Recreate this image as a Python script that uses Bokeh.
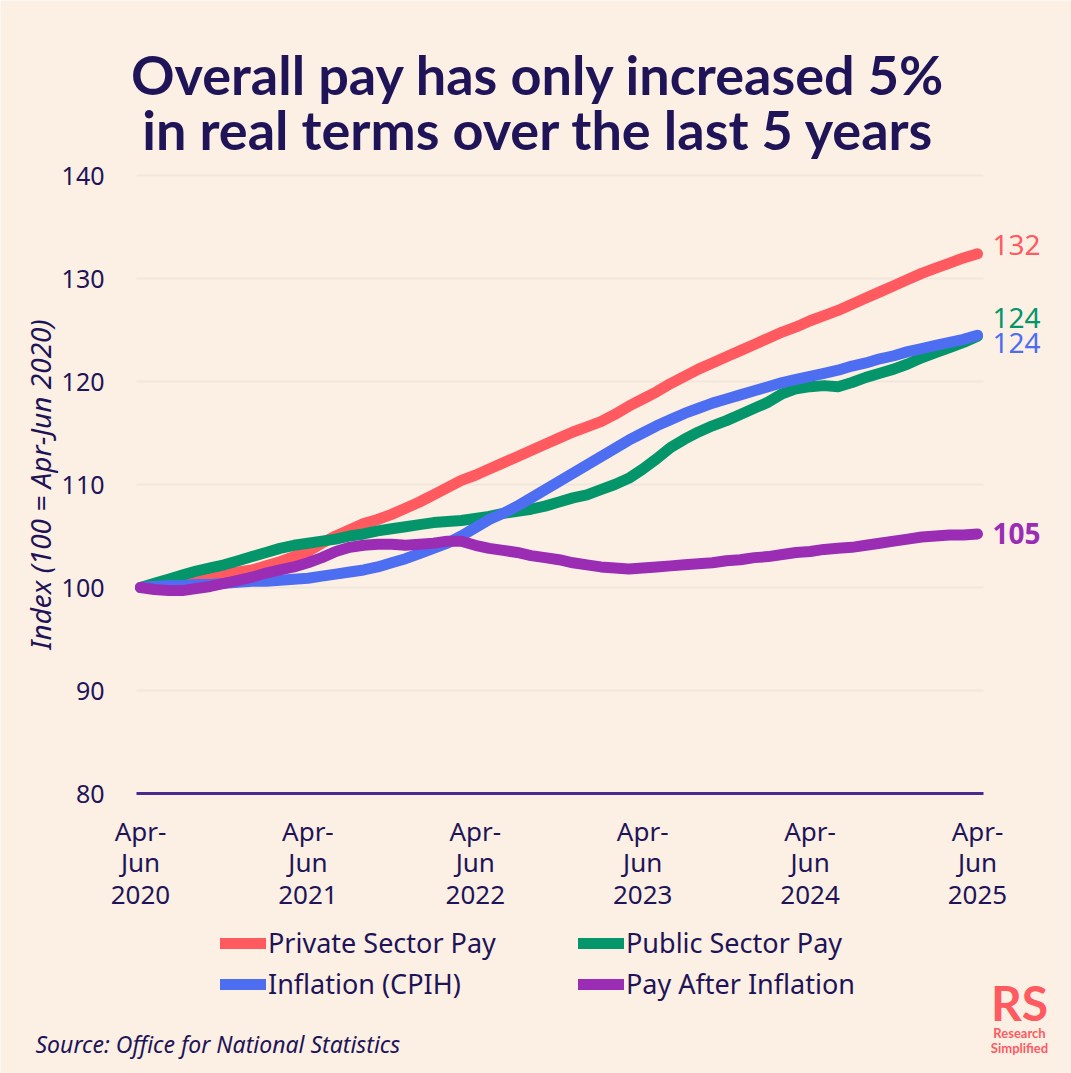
from bokeh.plotting import figure
from bokeh.models import Label, Legend, LegendItem, FixedTicker, Range1d, LinearAxis
from bokeh.embed import file_html
from bokeh.resources import INLINE

# ---- data (index, 100 = Apr-Jun 2020), rolling quarters Apr-Jun 2020 .. Apr-Jun 2025
months = list(range(61))
tick_months = [0, 12, 24, 36, 48, 60]
tick_labels = ["Apr-\nJun\n2020", "Apr-\nJun\n2021", "Apr-\nJun\n2022",
               "Apr-\nJun\n2023", "Apr-\nJun\n2024", "Apr-\nJun\n2025"]
y_ticks = [80, 90, 100, 110, 120, 130, 140]

private = [100.0, 100.2, 100.5, 100.7, 100.9, 101.1, 101.3, 101.5, 101.7, 102.1,
           102.5, 103.0, 103.5, 104.3, 105.0, 105.6, 106.2, 106.6, 107.1, 107.7,
           108.3, 109.0, 109.7, 110.4, 110.9, 111.5, 112.1, 112.7, 113.3, 113.9,
           114.5, 115.1, 115.6, 116.1, 116.8, 117.6, 118.3, 119.0, 119.8, 120.5,
           121.2, 121.8, 122.4, 123.0, 123.6, 124.2, 124.8, 125.3, 125.9, 126.4,
           126.9, 127.5, 128.1, 128.7, 129.3, 129.9, 130.5, 131.0, 131.5, 132.0,
           132.4]
public = [100.0, 100.4, 100.8, 101.2, 101.6, 101.9, 102.2, 102.6, 103.0, 103.4,
          103.8, 104.1, 104.3, 104.5, 104.7, 105.0, 105.2, 105.5, 105.7, 105.9,
          106.1, 106.3, 106.4, 106.5, 106.7, 106.9, 107.2, 107.4, 107.6, 107.9,
          108.3, 108.7, 109.0, 109.5, 110.0, 110.6, 111.5, 112.5, 113.6, 114.4,
          115.1, 115.7, 116.2, 116.8, 117.4, 118.0, 118.8, 119.3, 119.5, 119.6,
          119.5, 119.9, 120.4, 120.8, 121.2, 121.7, 122.3, 122.8, 123.3, 123.8,
          124.4]
inflation = [100.0, 100.1, 100.2, 100.2, 100.3, 100.3, 100.4, 100.5, 100.6, 100.6,
             100.7, 100.8, 100.9, 101.1, 101.3, 101.5, 101.7, 102.0, 102.4, 102.8,
             103.3, 103.8, 104.3, 105.0, 105.8, 106.6, 107.2, 107.9, 108.7, 109.5,
             110.3, 111.1, 111.9, 112.7, 113.5, 114.3, 115.0, 115.7, 116.3, 116.9,
             117.4, 117.9, 118.3, 118.7, 119.1, 119.5, 119.9, 120.2, 120.5, 120.8,
             121.1, 121.5, 121.8, 122.2, 122.5, 122.9, 123.2, 123.5, 123.8, 124.1,
             124.5]
real_pay = [100.0, 99.8, 99.7, 99.7, 99.9, 100.1, 100.4, 100.7, 101.0, 101.4,
            101.7, 102.0, 102.4, 102.9, 103.5, 103.9, 104.1, 104.2, 104.2, 104.1,
            104.2, 104.3, 104.5, 104.5, 104.1, 103.8, 103.6, 103.4, 103.1, 102.9,
            102.7, 102.4, 102.2, 102.0, 101.9, 101.8, 101.9, 102.0, 102.1, 102.2,
            102.3, 102.4, 102.6, 102.7, 102.9, 103.0, 103.2, 103.4, 103.5, 103.7,
            103.8, 103.9, 104.1, 104.3, 104.5, 104.7, 104.9, 105.0, 105.1, 105.1,
            105.2]

series_names = ["Private Sector Pay", "Public Sector Pay", "Inflation (CPIH)", "Pay After Inflation"]
end_labels = ["132", "124", "124", "105"]

BG = "#FCF0E5"
NAVY = "#1F1457"
RED = "#FF5A5F"
GREEN = "#05956A"
BLUE = "#4E6EF2"
PURPLE = "#9A2DB3"
AXIS = "#4A2A8C"
FONT = "Noto Sans"

W, H = 1071, 1073
# plot area geometry (pixels)
PX_LEFT, PX_X0, PX_X60, PX_RIGHT = 136, 140, 977, 983
PX_Y80, PX_Y140 = 793, 175
kx = (PX_X60 - PX_X0) / 60.0
ky = (PX_Y80 - PX_Y140) / 60.0
x_lo = (PX_LEFT - PX_X0) / kx
x_hi = 60 + (PX_RIGHT - PX_X60) / kx

p = figure(width=W, height=H, output_backend="svg", toolbar_location=None,
           x_range=Range1d(-PX_X0 / kx, (W - PX_X0) / kx),
           y_range=Range1d(80 - (H - PX_Y80) / ky, 80 + PX_Y80 / ky),
           x_axis_location=None, y_axis_location=None,
           min_border=0, background_fill_color=BG, border_fill_color=BG,
           outline_line_color=None)
p.title.visible = False
p.xgrid.visible = False
p.ygrid.visible = False

# horizontal gridlines limited to the plot area
p.segment(x0=[x_lo] * len(y_ticks), x1=[x_hi] * len(y_ticks), y0=y_ticks, y1=y_ticks,
          line_color="#F1E6DC", line_width=2)

# axes
yaxis = LinearAxis(fixed_location=x_lo, bounds=(80, 140), ticker=FixedTicker(ticks=y_ticks))
yaxis.axis_line_color = None
yaxis.major_tick_line_color = None
yaxis.minor_tick_line_color = None
yaxis.major_label_standoff = 26
yaxis.major_label_text_font = FONT
yaxis.major_label_text_font_size = "25px"
yaxis.major_label_text_color = NAVY
yaxis.axis_label = "Index (100 = Apr-Jun 2020)"
yaxis.axis_label_text_font = FONT
yaxis.axis_label_text_font_style = "italic"
yaxis.axis_label_text_font_size = "28px"
yaxis.axis_label_text_color = NAVY
yaxis.axis_label_standoff = 0
p.add_layout(yaxis, "left")

xaxis = LinearAxis(fixed_location=80, bounds=(x_lo, x_hi), ticker=FixedTicker(ticks=tick_months))
xaxis.major_label_overrides = {m: lab for m, lab in zip(tick_months, tick_labels)}
xaxis.axis_line_color = AXIS
xaxis.axis_line_width = 3
xaxis.major_tick_line_color = None
xaxis.minor_tick_line_color = None
xaxis.major_label_standoff = 13
xaxis.major_label_text_font = FONT
xaxis.major_label_text_font_size = "26px"
xaxis.major_label_text_line_height = 0.88
xaxis.major_label_text_color = NAVY
p.add_layout(xaxis, "below")

# lines (drawing order: red, green, blue, purple on top)
colors = [RED, GREEN, BLUE, PURPLE]
datas = [private, public, inflation, real_pay]
renderers = []
for vals, col in zip(datas, colors):
    r = p.line(months, vals, line_width=11, line_color=col, line_cap="round", line_join="round")
    renderers.append(r)

# legend fills column by column: [Private, Inflation] | [Public, Pay After]
legend_order = [0, 2, 1, 3]
legend = Legend(items=[LegendItem(label=series_names[i], renderers=[renderers[i]]) for i in legend_order],
                location=(220, 71), ncols=2, glyph_width=46, glyph_height=20,
                label_height=20, label_width=306, label_standoff=2, spacing=4,
                padding=0, margin=0, border_line_color=None, background_fill_alpha=0,
                label_text_font=FONT, label_text_font_size="27px", label_text_color=NAVY)
p.add_layout(legend)

# end labels
offsets = [9, 18, -8, 0]
for vals, col, txt, off in zip(datas, colors, end_labels, offsets):
    p.add_layout(Label(x=months[-1], y=vals[-1], text=txt, x_offset=15, y_offset=off,
                       text_font=FONT, text_font_size="28px", text_color=col,
                       text_baseline="middle", text_align="left",
                       text_font_style="bold" if txt == "105" else "normal"))

# title
for txt, yy in [("Overall pay has only increased 5%", H - 74),
                ("in real terms over the last 5 years", H - 129)]:
    p.add_layout(Label(x=538, y=yy, x_units="screen", y_units="screen", text=txt,
                       text_font="Lato", text_font_style="bold", text_font_size="54px",
                       text_color=NAVY, text_align="center", text_baseline="middle"))

# source
p.add_layout(Label(x=35, y=H - 1043, x_units="screen", y_units="screen",
                   text="Source: Office for National Statistics", text_font=FONT,
                   text_font_style="italic", text_font_size="23px", text_color=NAVY,
                   text_align="left", text_baseline="middle"))

# logo
for txt, yy, fs in [("RS", H - 1002, "48px"), ("Research", H - 1032, "13px"),
                    ("Simplified", H - 1047, "13px")]:
    p.add_layout(Label(x=1019, y=yy, x_units="screen", y_units="screen", text=txt,
                       text_font="Lato", text_font_style="bold", text_font_size=fs,
                       text_color=RED, text_align="center", text_baseline="middle"))

html = file_html(p, INLINE)
html = html.replace("<body>", '<body style="background-color:%s;">' % BG, 1)
open("out.html", "w").write(html)
